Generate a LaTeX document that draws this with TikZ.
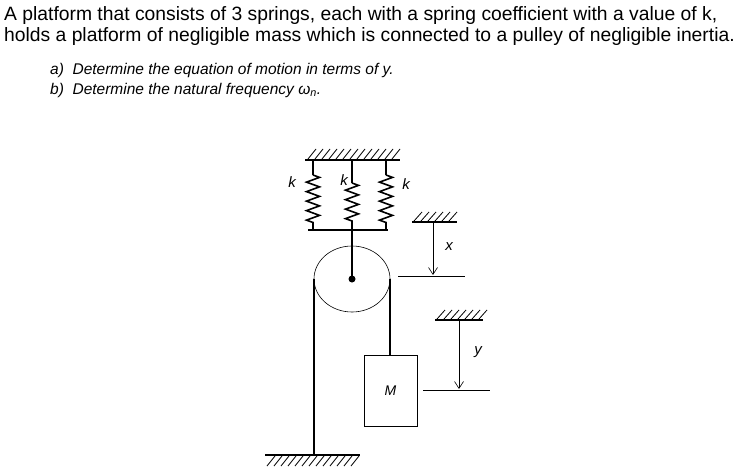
\documentclass[tikz,border=0pt]{standalone}
\usepackage{fontspec}
\setmainfont{Liberation Sans}
\usetikzlibrary{decorations.pathmorphing,arrows.meta}
\begin{document}
\begin{tikzpicture}[x=1pt,y=-1pt,
  ln/.style={line width=1.6pt},
  thin/.style={line width=0.6pt},
  hl/.style={line width=0.8pt},
  spr/.style={line width=1.6pt,decorate,decoration={zigzag,segment length=9.5pt,amplitude=6.5pt}},
  lbl/.style={font=\itshape\fontsize{15}{15}\selectfont},
  arr/.style={thin,-{Straight Barb[length=7pt,width=9pt]}}]
\useasboundingbox (0,0) rectangle (739,474);
\node[anchor=west,align=left,inner sep=0,font=\fontsize{19.3}{21}\selectfont] (txt) at (4,26) {A platform that consists of 3 springs, each with a spring coefficient with a value of k,\\holds a platform of negligible mass which is connected to a pulley of negligible inertia.};
\node[anchor=west,align=left,inner sep=0,font=\itshape\fontsize{15.5}{20}\selectfont] (qs) at (50,80) {a)\ \ Determine the equation of motion in terms of y.\\b)\ \ Determine the natural frequency ω\textsubscript{n}.};
% ceiling
\foreach \i in {0,...,12} \draw[hl] (308+7*\i,159) -- (316+7*\i,149);
\draw[ln] (305,160) -- (400,160);
% springs
\coordinate (l1) at (313,160); \coordinate (l2) at (313,175); \coordinate (l3) at (313,223); \coordinate (l4) at (313,230);
\draw[ln] (l1)--(l2); \draw[spr] (l2)--(l3); \draw[ln] (l3)--(l4);
\coordinate (m1) at (352,160); \coordinate (m2) at (352,183); \coordinate (m3) at (352,223); \coordinate (m4) at (352,230);
\draw[ln] (m1)--(m2); \draw[spr] (m2)--(m3); \draw[ln] (m3)--(m4);
\coordinate (r1) at (386,160); \coordinate (r2) at (386,175); \coordinate (r3) at (386,223); \coordinate (r4) at (386,230);
\draw[ln] (r1)--(r2); \draw[spr] (r2)--(r3); \draw[ln] (r3)--(r4);
\draw[ln] (308,230) -- (388,230);
\node[lbl] (k1) at (292,182) {k};
\node[lbl] (k2) at (344,180) {k};
\node[lbl] (k3) at (406,184) {k};
% pulley
\coordinate (pc) at (352,279);
\draw[thin] (pc) ellipse [x radius=38,y radius=33];
\draw[ln] (m4) -- (pc);
\fill (pc) circle (3.5);
% ropes
\coordinate (gl) at (314,455);
\draw[ln] (314,279) -- (gl);
\node[draw,thin,minimum width=53pt,minimum height=71pt,inner sep=0,font=\itshape\fontsize{14}{14}\selectfont] (M) at (390.5,390.5) {M};
\draw[ln] (390,279) -- (M.north-|390,0);
% ground
\draw[ln] (265,455) -- (360,455);
\foreach \i in {0,...,12} \draw[hl] (267+7*\i,466) -- (275+7*\i,456);
% x reference
\foreach \i in {0,...,5} \draw[hl] (414+7*\i,221) -- (422+7*\i,212);
\draw[ln] (412,222) -- (457,222);
\coordinate (xa) at (433,222); \coordinate (xb) at (433,275);
\draw[arr] (xa) -- (xb);
\draw[thin] (398,276) -- (465,276);
\node[lbl] (xl) at (449,247) {x};
% y reference
\foreach \i in {0,...,6} \draw[hl] (437+7*\i,319) -- (445+7*\i,310);
\draw[ln] (435,320) -- (483,320);
\coordinate (ya) at (459,320); \coordinate (yb) at (459,389);
\draw[arr] (ya) -- (yb);
\draw[thin] (423,390) -- (490,390);
\node[lbl] (yl) at (478,352) {y};
\end{tikzpicture}
\end{document}
